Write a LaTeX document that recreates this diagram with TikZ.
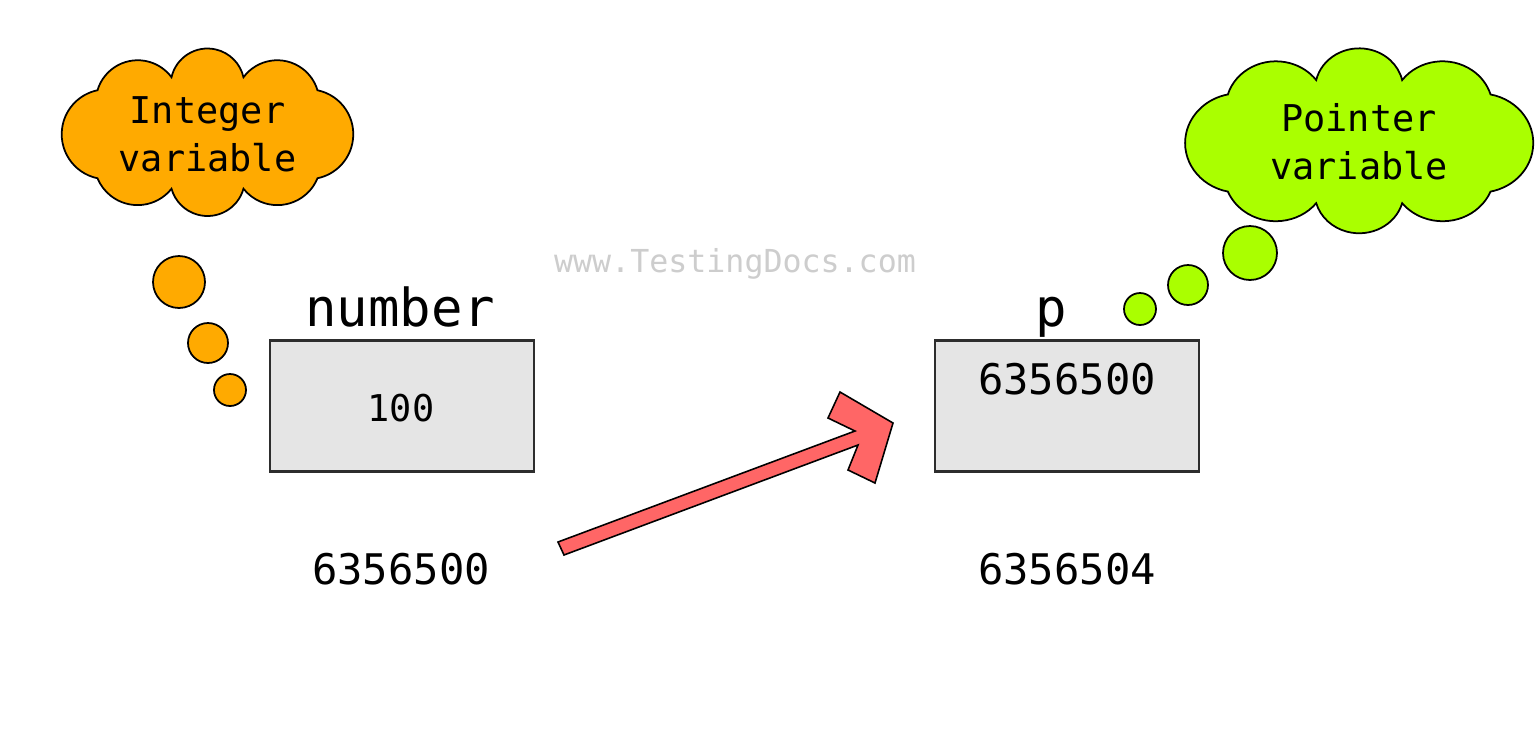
\documentclass[tikz,border=0pt]{standalone}
\usepackage{fontspec}
\setmainfont{DejaVu Sans Mono}
\definecolor{orng}{RGB}{255,170,0}
\definecolor{lgreen}{RGB}{170,255,0}
\definecolor{boxgray}{RGB}{229,229,229}
\definecolor{arrowred}{RGB}{255,102,102}
\definecolor{wm}{RGB}{205,205,205}
\definecolor{edge}{RGB}{45,45,45}
\newcommand{\cloudoutline}{%
  (-110,42) arc[start angle=163.43, end angle=36.49, radius=41.99]
  arc[start angle=167.23, end angle=12.77, radius=36.91]
  arc[start angle=143.51, end angle=16.57, radius=41.99]
  arc[start angle=78.26, end angle=-78.26, radius=44.94]
  arc[start angle=-22.38, end angle=-141.46, radius=43.36]
  arc[start angle=-15.75, end angle=-164.25, radius=37.4]
  arc[start angle=-38.54, end angle=-157.62, radius=43.36]
  arc[start angle=-101.74, end angle=-258.26, radius=44.94] -- cycle}
\begin{document}
\begin{tikzpicture}[x=0.02cm,y=-0.02cm,
  membox/.style={draw=edge, line width=1.4pt, fill=boxgray, minimum width=5.28cm, minimum height=2.62cm, inner sep=0pt},
  cloudline/.style={draw=black, line width=1pt, line join=miter, miter limit=3},
  cloudtext/.style={align=center, inner sep=0pt, font=\fontsize{21}{27.3}\selectfont},
  bubble/.style={circle, draw=black, line width=1pt, inner sep=0pt},
  lbl/.style={inner sep=0pt, anchor=center}]
\useasboundingbox (0,0) rectangle (1536,752);
\fill[white] (0,0) rectangle (1536,752);
% watermark
\node[lbl, text=wm, font=\fontsize{18}{18}\selectfont] (wmark) at (735,264) {www.TestingDocs.com};
% boxes
\node[membox] (numbox) at (402,406) {};
\node[lbl, font=\fontsize{21}{21}\selectfont] (val100) at (401,408) {100};
\node[membox] (pbox) at (1067,406) {};
\node[lbl, font=\fontsize{24}{24}\selectfont, anchor=base] (pval) at (1067,394) {6356500};
% names
\node[lbl, font=\fontsize{29.8}{30}\selectfont, anchor=base] (numname) at (400,326) {number};
\node[lbl, font=\fontsize{29.8}{30}\selectfont, anchor=base] (pname) at (1051,326) {p};
% addresses
\node[lbl, font=\fontsize{24}{24}\selectfont, anchor=base] (addr1) at (401,584) {6356500};
\node[lbl, font=\fontsize{24}{24}\selectfont, anchor=base] (addr2) at (1067,584) {6356504};
% arrow
\draw[fill=arrowred, draw=black, line width=0.9pt, line join=miter]
  (564,555) -- (858,445) -- (848,470) -- (875,483) -- (893,423) -- (840,392) -- (828,418) -- (855,431) -- (558,542) -- cycle;
% clouds
\begin{scope}[shift={(207.5,132.25)}, yscale=-1]
  \filldraw[cloudline, fill=orng] \cloudoutline;
\end{scope}
\node[cloudtext] (intcloud) at (207.5,134) {Integer\\variable};
\begin{scope}[shift={(1359.2,140.8)}, xscale=1.194, yscale=-1.104]
  \filldraw[cloudline, fill=lgreen] \cloudoutline;
\end{scope}
\node[cloudtext] (ptrcloud) at (1359,141.5) {Pointer\\variable};
% bubbles
\node[bubble, fill=orng, minimum size=1.04cm] (ib1) at (179,282) {};
\node[bubble, fill=orng, minimum size=0.80cm] (ib2) at (208,343) {};
\node[bubble, fill=orng, minimum size=0.64cm] (ib3) at (230,390) {};
\node[bubble, fill=lgreen, minimum size=1.08cm] (pb1) at (1250,253) {};
\node[bubble, fill=lgreen, minimum size=0.80cm] (pb2) at (1188,285) {};
\node[bubble, fill=lgreen, minimum size=0.64cm] (pb3) at (1140,309) {};
\end{tikzpicture}
\end{document}
